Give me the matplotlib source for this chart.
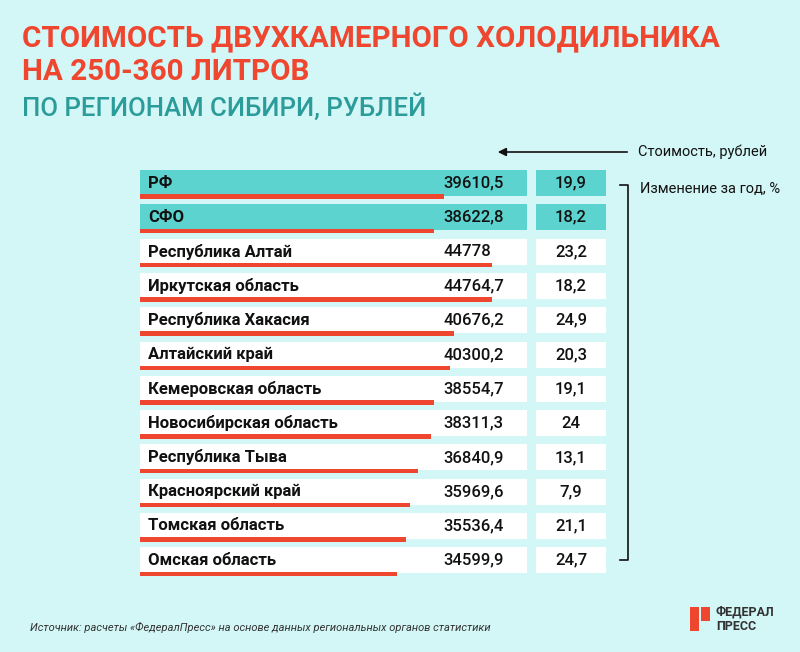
import matplotlib.pyplot as plt
from matplotlib.patches import Rectangle

regions = ["РФ", "СФО", "Республика Алтай", "Иркутская область", "Республика Хакасия",
           "Алтайский край", "Кемеровская область", "Новосибирская область",
           "Республика Тыва", "Красноярский край", "Томская область", "Омская область"]
prices = [39610.5, 38622.8, 44778, 44764.7, 40676.2, 40300.2, 38554.7, 38311.3,
          36840.9, 35969.6, 35536.4, 34599.9]
price_labels = ["39610,5", "38622,8", "44778", "44764,7", "40676,2", "40300,2", "38554,7",
                "38311,3", "36840,9", "35969,6", "35536,4", "34599,9"]
changes = ["19,9", "18,2", "23,2", "18,2", "24,9", "20,3", "19,1", "24", "13,1", "7,9", "21,1", "24,7"]

BG = "#d3f6f6"
RED = "#ef4630"
TEAL = "#2b9c9a"
HL = "#5cd3cf"

fig = plt.figure(figsize=(8, 6.52), dpi=100, facecolor=BG)
ax = fig.add_axes([0, 0, 1, 1])
ax.set_xlim(0, 800)
ax.set_ylim(652, 0)
ax.axis("off")

fig.text(22 / 800, 1 - 38 / 652, "СТОИМОСТЬ ДВУХКАМЕРНОГО ХОЛОДИЛЬНИКА", color=RED,
         fontsize=21.3, fontweight="bold", family="Roboto", va="center")
fig.text(22 / 800, 1 - 72 / 652, "НА 250-360 ЛИТРОВ", color=RED,
         fontsize=21.3, fontweight="bold", family="Roboto", va="center")
fig.text(22 / 800, 1 - 107 / 652, "ПО РЕГИОНАМ СИБИРИ, РУБЛЕЙ", color=TEAL,
         fontsize=18.5, fontweight="medium", family="Roboto", va="center")

# scale so that bar end = 74 + v * 0.00933 px, bars start at x=140
k = 0.00933
y0, dy = 183, 34.3
for i, (r, p, pl, c) in enumerate(zip(regions, prices, price_labels, changes)):
    yc = y0 + i * dy
    fc = HL if i < 2 else "white"
    ax.add_patch(Rectangle((140, yc - 13), 387, 26, facecolor=fc, edgecolor="none"))
    ax.add_patch(Rectangle((536, yc - 13), 70, 26, facecolor=fc, edgecolor="none"))
    ax.barh(yc + 13.5, 74 + p * k - 140, left=140, height=4.5, color=RED)
    ax.text(148, yc, r, fontsize=12, fontweight="bold", family="Roboto", va="center", color="#111")
    ax.text(443, yc, pl, fontsize=12, fontweight="medium", family="Roboto", va="center", color="#111")
    ax.text(571, yc, c, fontsize=12, fontweight="medium", family="Roboto", va="center", ha="center", color="#111")

ax.annotate("", xy=(495, 152), xytext=(630, 152),
            arrowprops=dict(arrowstyle="-|>", color="#111", lw=1.2, mutation_scale=12))
ax.text(638, 152, "Стоимость, рублей", fontsize=10.5, family="Roboto", va="center", color="#111")
ax.plot([620, 628, 628, 620], [185, 185, 560, 560], color="#111", lw=1.2)
ax.text(640, 188, "Изменение за год, %", fontsize=10.5, family="Roboto", va="center", color="#111")

ax.text(30, 627, "Источник: расчеты «ФедералПресс» на основе данных региональных органов статистики",
        fontsize=8, style="italic", family="Roboto", va="center", color="#333")
ax.add_patch(Rectangle((690, 607), 9, 24, facecolor=RED, edgecolor="none"))
ax.add_patch(Rectangle((701, 607), 9, 14, facecolor=RED, edgecolor="none"))
ax.text(716, 612, "ФЕДЕРАЛ", fontsize=9, fontweight="bold", family="Roboto", va="center", color="#333")
ax.text(716, 627, "ПРЕСС", fontsize=9, fontweight="bold", family="Roboto", va="center", color="#333")

fig.savefig("out.png", dpi=100, facecolor=BG)
